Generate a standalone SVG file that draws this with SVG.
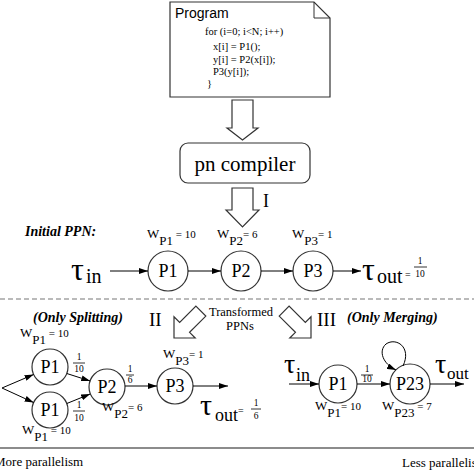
<svg xmlns="http://www.w3.org/2000/svg" width="474" height="474" viewBox="0 0 474 474">
<defs>
<marker id="ah" markerWidth="9" markerHeight="6" refX="9" refY="3" orient="auto" markerUnits="userSpaceOnUse"><path d="M0,0 L9,3 L0,6 z" fill="#000"/></marker>
</defs>
<style>
.s{font-family:"Liberation Serif","Times New Roman",serif;fill:#000}
.bi{font-family:"Liberation Serif","Times New Roman",serif;font-weight:bold;font-style:italic;font-size:14px;fill:#000}
.node{fill:#fff;stroke:#333;stroke-width:1.2}
.edge{stroke:#000;stroke-width:1;fill:none;marker-end:url(#ah)}
.hollow{fill:#fff;stroke:#333;stroke-width:1.2}
.lbl{font-family:"Liberation Serif","Times New Roman",serif;font-size:18px;text-anchor:middle;fill:#000}
.w{font-family:"Liberation Serif","Times New Roman",serif;font-size:13px;fill:#000}
.fr{font-family:"Liberation Serif","Times New Roman",serif;font-size:9.5px;text-anchor:middle;fill:#000}
.bar{stroke:#000;stroke-width:0.8}
</style>

<!-- Program -->
<g id="program">
<path class="node" d="M170,2 L314,2 L330,18 L330,97 L170,97 Z"/>
<path d="M314,2 L314,18 L330,18" fill="none" stroke="#333" stroke-width="1"/>
<text x="175" y="18" font-family="Liberation Sans, Arial, sans-serif" font-size="14">Program</text>
<g class="s" font-size="10.5">
<text x="205" y="35">for (i=0; i&lt;N; i++)</text>
<text x="213" y="50">x[i] = P1();</text>
<text x="213" y="63">y[i] = P2(x[i]);</text>
<text x="213" y="75">P3(y[i]);</text>
<text x="207" y="87">}</text>
</g>
</g>

<g id="arrow-top">
<polygon class="hollow" points="232,100 253,100 253,128 258,128 242.5,140 227,128 232,128"/>
</g>

<g id="compiler">
<rect class="node" x="180" y="143" width="130" height="40" rx="8"/>
<text class="s" x="245" y="171" font-size="21" text-anchor="middle">pn compiler</text>
</g>

<g id="arrow-I">
<polygon class="hollow" points="232,188 253,188 253,210 259,210 242.5,227 226,210 232,210"/>
<text class="s" x="263" y="207" font-size="18">I</text>
</g>

<!-- Initial PPN -->
<text class="bi" x="25" y="236">Initial PPN:</text>

<g id="init-tau-in">
<text class="s" x="71" y="280" font-size="32">τ</text>
<text class="s" x="86" y="283" font-size="20">in</text>
</g>
<g id="init-p1">
<text class="w" x="147" y="238">W<tspan dy="7">P1</tspan><tspan dy="-7" font-size="11"> = 10</tspan></text>
<circle class="node" cx="168" cy="271" r="20"/>
<text class="lbl" x="168" y="277">P1</text>
</g>
<g id="init-p2">
<text class="w" x="217" y="238">W<tspan dy="7">P2</tspan><tspan dy="-7" font-size="11">= 6</tspan></text>
<circle class="node" cx="241" cy="271" r="20"/>
<text class="lbl" x="241" y="277">P2</text>
</g>
<g id="init-p3">
<text class="w" x="292" y="238">W<tspan dy="7">P3</tspan><tspan dy="-7" font-size="11">= 1</tspan></text>
<circle class="node" cx="313" cy="271" r="20"/>
<text class="lbl" x="313" y="277">P3</text>
</g>
<g id="init-tau-out">
<text class="s" x="362" y="280" font-size="32">τ</text>
<text class="s" x="377" y="283" font-size="20">out</text>
<text class="s" x="405" y="278" font-size="10">=</text>
<text class="fr" x="420" y="264">1</text>
<line class="bar" x1="414" y1="267" x2="427" y2="267"/>
<text class="fr" x="420" y="277">10</text>
</g>

<line x1="0" y1="299" x2="474" y2="299" stroke="#777" stroke-width="1.2" stroke-dasharray="5,3"/>

<!-- transform arrows -->
<g id="arrow-II">
<polygon class="hollow" transform="translate(174,338) rotate(45)" points="-7,-38 7,-38 7,-15 15,-15 0,0 -15,-15 -7,-15"/>
<text class="s" x="149" y="326" font-size="19">II</text>
</g>
<g id="transformed-label">
<text class="s" x="241" y="316" font-size="12.5" text-anchor="middle">Transformed</text>
<text class="s" x="240" y="330" font-size="12.5" text-anchor="middle">PPNs</text>
</g>
<g id="arrow-III">
<polygon class="hollow" transform="translate(311,338) rotate(-45)" points="-7,-38 7,-38 7,-15 15,-15 0,0 -15,-15 -7,-15"/>
<text class="s" x="317" y="326" font-size="19">III</text>
</g>

<text class="bi" x="33" y="322">(Only Splitting)</text>
<text class="bi" x="347" y="322">(Only Merging)</text>

<!-- Splitting network -->
<g id="split-p1a">
<text class="w" x="20" y="337">W<tspan dy="7">P1</tspan><tspan dy="-7" font-size="11"> = 10</tspan></text>
<circle class="node" cx="50" cy="367" r="18"/>
<text class="lbl" x="50" y="373">P1</text>
</g>
<g id="split-p1b">
<circle class="node" cx="50" cy="410" r="18"/>
<text class="lbl" x="50" y="416">P1</text>
<text class="w" x="22" y="434">W<tspan dy="7">P1</tspan><tspan dy="-7" font-size="11"> = 10</tspan></text>
</g>
<g id="split-p2">
<circle class="node" cx="107" cy="387" r="18"/>
<text class="lbl" x="107" y="393">P2</text>
<text class="w" x="102" y="411">W<tspan dy="7">P2</tspan><tspan dy="-7" font-size="11">= 6</tspan></text>
</g>
<g id="split-p3">
<text class="w" x="163" y="358">W<tspan dy="7">P3</tspan><tspan dy="-7" font-size="11">= 1</tspan></text>
<circle class="node" cx="175" cy="386" r="18"/>
<text class="lbl" x="175" y="392">P3</text>
</g>
<g id="split-tau-out">
<text class="s" x="200" y="415" font-size="30">τ</text>
<text class="s" x="215" y="421" font-size="18">out</text>
<text class="s" x="238" y="414" font-size="10">=</text>
<text class="fr" x="256" y="406">1</text>
<line class="bar" x1="251" y1="409" x2="261" y2="409"/>
<text class="fr" x="256" y="419">6</text>
</g>
<g id="split-fracs">
<text class="fr" x="79" y="360">1</text>
<line class="bar" x1="73" y1="363" x2="85" y2="363"/>
<text class="fr" x="79" y="372">10</text>
<text class="fr" x="79" y="408">1</text>
<line class="bar" x1="73" y1="411" x2="85" y2="411"/>
<text class="fr" x="79" y="421">10</text>
<text class="fr" x="130" y="372">1</text>
<line class="bar" x1="126" y1="375" x2="134" y2="375"/>
<text class="fr" x="130" y="383">6</text>
</g>

<!-- Merging network -->
<g id="merge-tau-in">
<text class="s" x="284" y="373" font-size="28">τ</text>
<text class="s" x="296" y="381" font-size="18">in</text>
</g>
<g id="merge-p1">
<circle class="node" cx="338" cy="384" r="19"/>
<text class="lbl" x="338" y="390">P1</text>
<text class="w" x="315" y="410">W<tspan dy="7">P1</tspan><tspan dy="-7" font-size="11">= 10</tspan></text>
</g>
<g id="merge-p23">
<circle class="node" cx="410" cy="384" r="20"/>
<text class="lbl" x="410" y="390" font-size="17">P23</text>
<text class="w" x="382" y="410">W<tspan dy="7">P23</tspan><tspan dy="-7" font-size="11"> = 7</tspan></text>
</g>
<g id="merge-tau-out">
<text class="s" x="435" y="373" font-size="28">τ</text>
<text class="s" x="447" y="379" font-size="17">out</text>
</g>
<g id="merge-fracs">
<text class="fr" x="367" y="372">1</text>
<line class="bar" x1="361" y1="375" x2="373" y2="375"/>
<text class="fr" x="367" y="382">10</text>
</g>

<!-- connectors -->
<g id="connectors">
<line class="edge" x1="110" y1="271" x2="148" y2="271"/>
<line class="edge" x1="188" y1="271" x2="221" y2="271"/>
<line class="edge" x1="261" y1="271" x2="293" y2="271"/>
<line class="edge" x1="333" y1="271" x2="361" y2="271"/>
<line class="edge" x1="2" y1="388" x2="33.6" y2="374.5"/>
<line class="edge" x1="2" y1="388" x2="33.6" y2="402.5"/>
<line class="edge" x1="66.8" y1="373.5" x2="90.2" y2="381"/>
<line class="edge" x1="66.8" y1="403.5" x2="90.2" y2="394"/>
<line class="edge" x1="125" y1="386" x2="157" y2="386"/>
<line class="edge" x1="193" y1="386" x2="228" y2="386"/>
<line class="edge" x1="289" y1="384" x2="319" y2="384"/>
<line class="edge" x1="357" y1="384" x2="390" y2="384"/>
<line class="edge" x1="430" y1="384" x2="464" y2="384"/>
<path class="edge" d="M403,366 C412,347 396,337 386,344 C378,351 383,364 396,370"/>
</g>

<line x1="0" y1="448" x2="474" y2="448" stroke="#666" stroke-width="1.3"/>
<text class="s" x="-6" y="466" font-size="13">More parallelism</text>
<text class="s" x="402" y="467" font-size="13">Less parallelism</text>
</svg>
